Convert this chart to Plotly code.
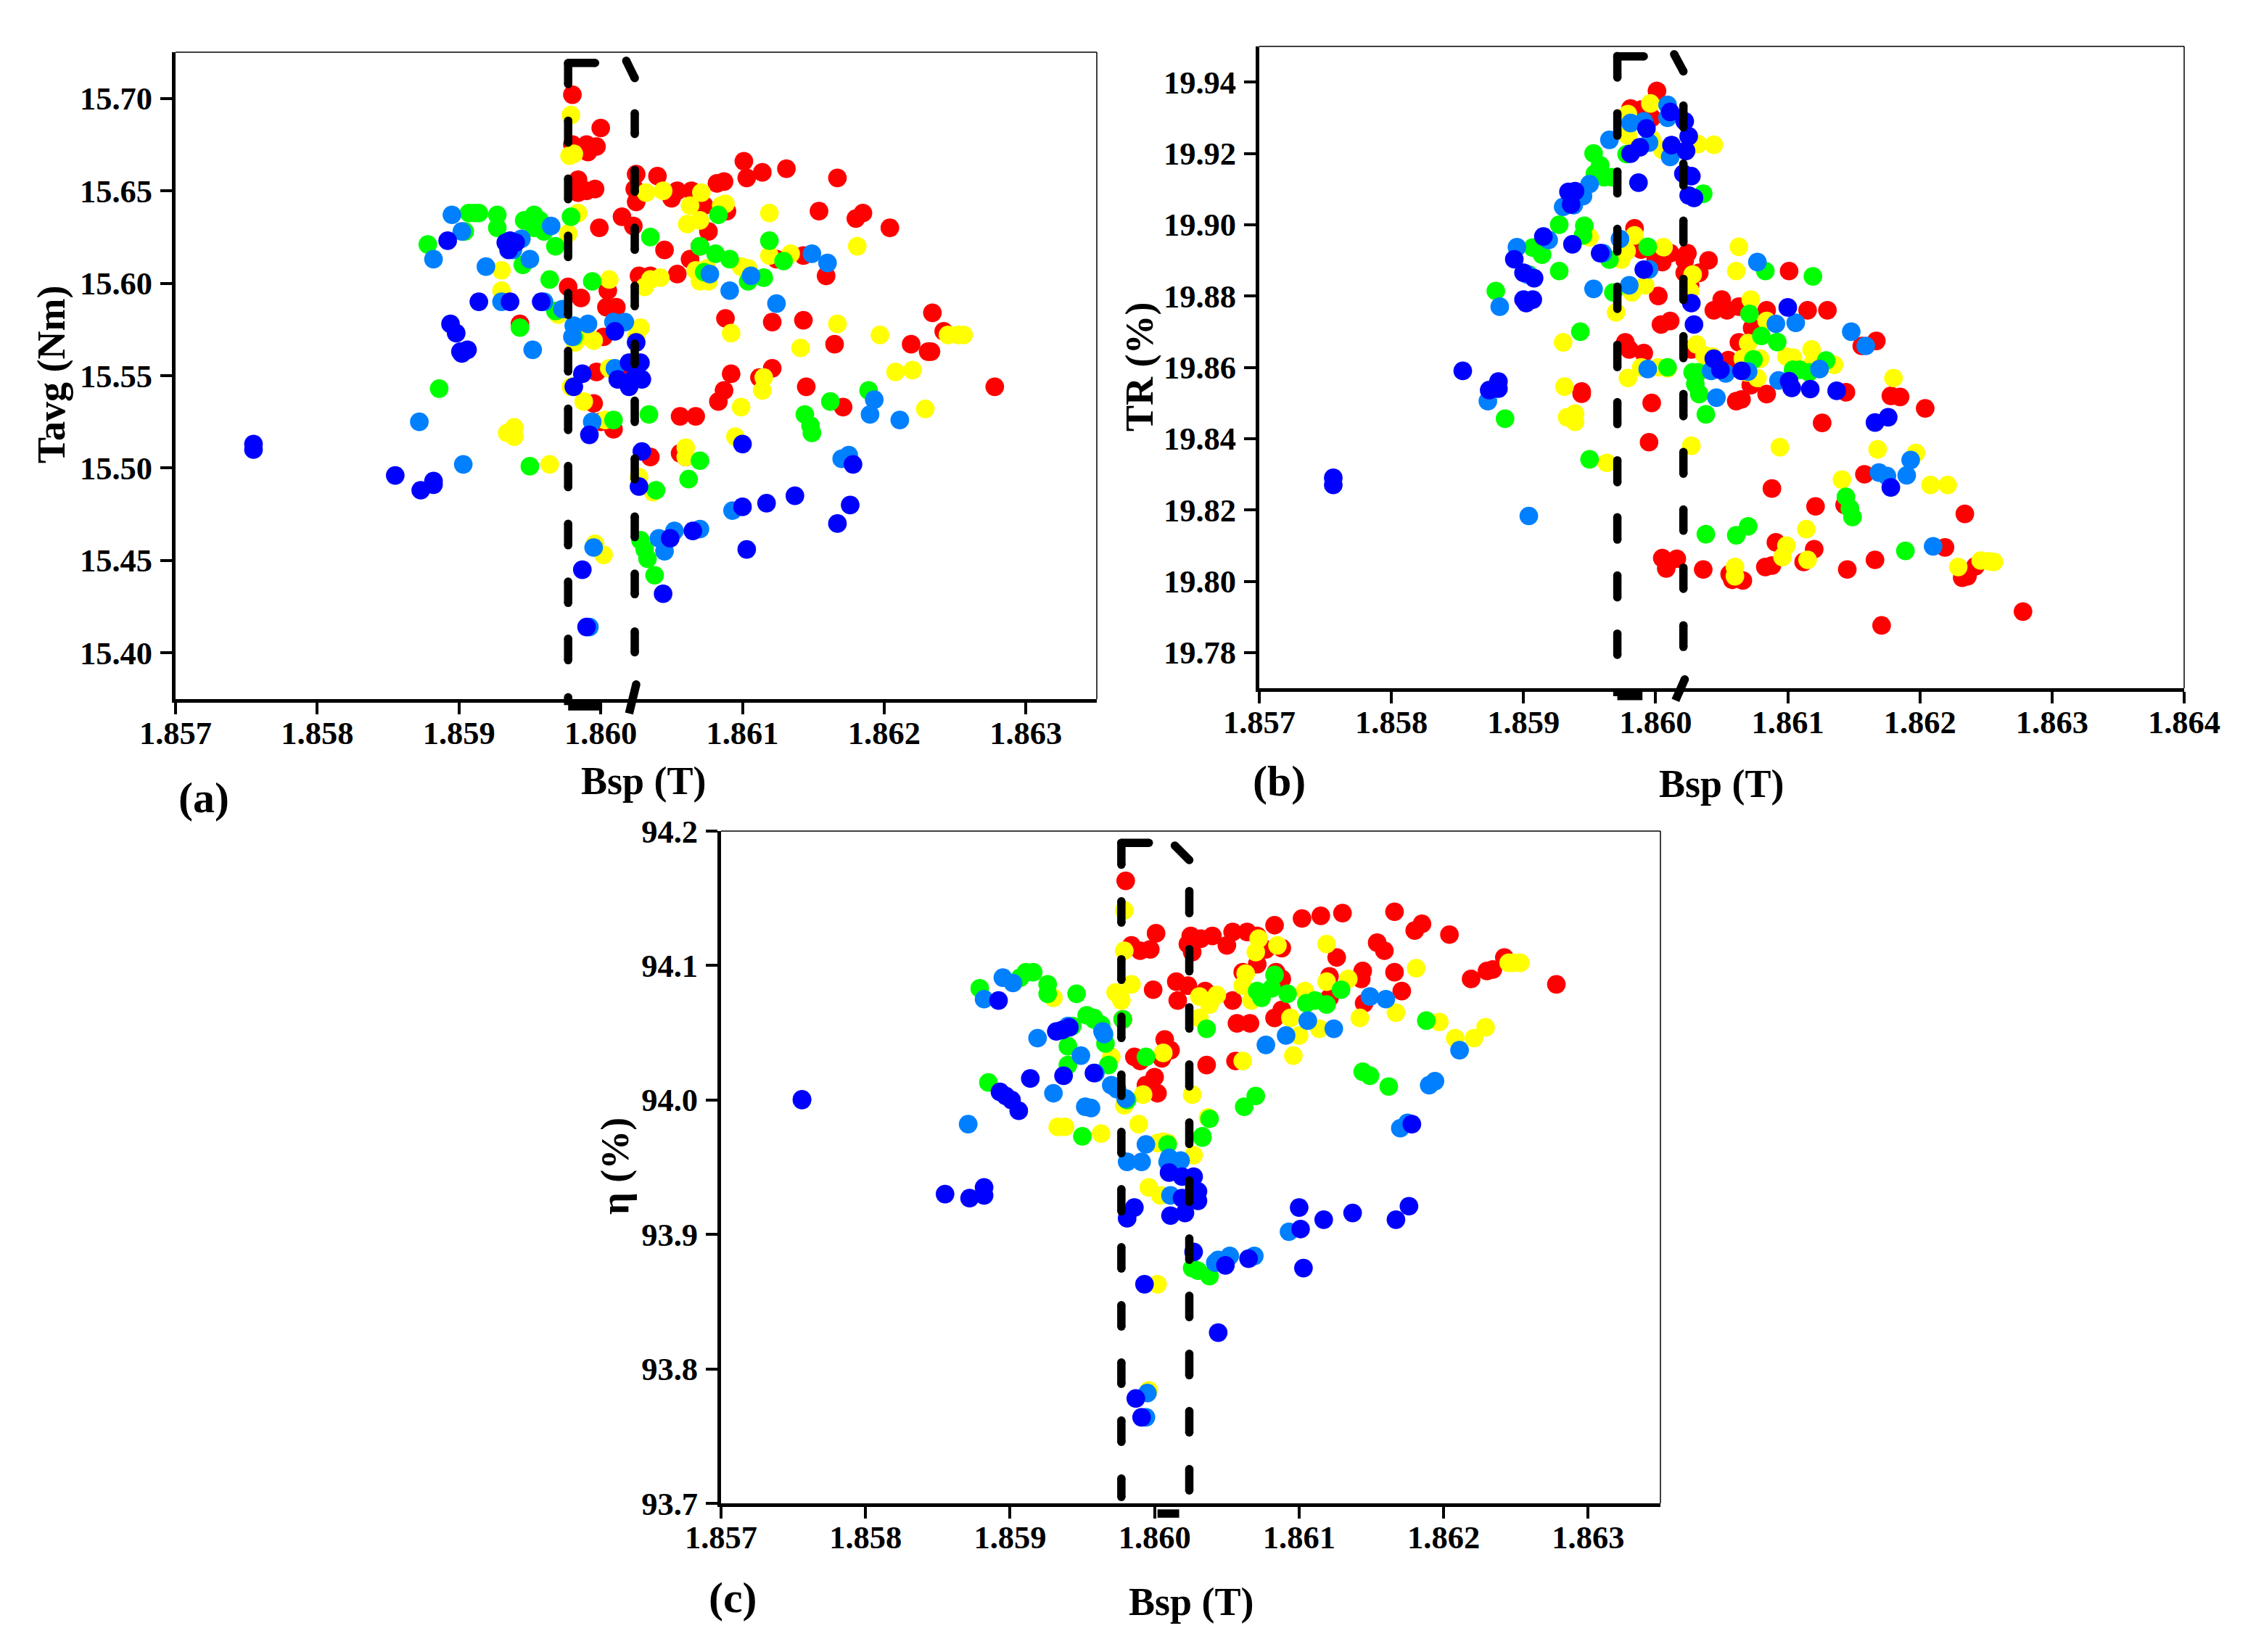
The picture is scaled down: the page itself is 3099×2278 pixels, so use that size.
import plotly.graph_objects as go

W, H = 3099, 2278
PAGE_INSET = 8  # the page body offsets the figure
RED, YELLOW, GREEN, SKY, BLUE = "#ff0000", "#ffff00", "#00ff00", "#0080ff", "#0000ff"
SERIES_COLORS = [RED, YELLOW, GREEN, SKY, BLUE]
X_TITLE = "Bsp (T)"
Y_TITLES = ["Tavg (Nm)", "TR (%)", "η (%)"]
PANEL_TAGS = ["(a)", "(b)", "(c)"]

a_red = [(1.85980,15.702),(1.86000,15.684),(1.85980,15.675),(1.85990,15.675),(1.85997,15.674),(1.85991,15.671),
(1.85984,15.656),(1.85984,15.649),(1.85990,15.650),(1.85996,15.651),(1.86025,15.659),(1.86040,15.658),(1.86024,15.651),
(1.86025,15.644),(1.86050,15.646),(1.86054,15.650),(1.86064,15.650),(1.86073,15.642),(1.86082,15.654),(1.86087,15.655),
(1.86015,15.636),(1.85999,15.630),(1.86023,15.631),(1.86045,15.618),(1.86076,15.628),(1.86070,15.620),(1.86063,15.613),
(1.86054,15.605),(1.86027,15.604),(1.86035,15.604),(1.85977,15.598),(1.85986,15.592),(1.86005,15.596),(1.86004,15.587),
(1.86011,15.587),(1.86088,15.581),(1.85943,15.578),(1.86002,15.571),(1.86101,15.666),(1.86103,15.657),(1.86114,15.660),
(1.86131,15.662),(1.86167,15.657),(1.86154,15.639),(1.86185,15.638),(1.86180,15.635),(1.86204,15.630),(1.86089,15.639),
(1.86143,15.615),(1.86124,15.613),(1.86159,15.604),(1.86121,15.579),(1.86143,15.580),(1.86234,15.584),(1.86242,15.574),
(1.86219,15.567),(1.86231,15.563),(1.86233,15.563),(1.86165,15.567),(1.85997,15.552),(1.86018,15.551),(1.86092,15.551),
(1.86112,15.549),(1.86121,15.554),(1.86087,15.542),(1.86083,15.536),(1.86145,15.544),(1.86171,15.533),(1.86278,15.544),
(1.85995,15.535),(1.86009,15.521),(1.86000,15.525),(1.86056,15.528),(1.86067,15.528),(1.86035,15.506),(1.86056,15.508),(1.86060,15.506)]
a_yellow = [(1.85979,15.691),(1.85978,15.669),(1.85981,15.670),(1.85984,15.638),(1.85977,15.627),(1.86032,15.649),(1.86044,15.650),
(1.86063,15.642),(1.86071,15.649),(1.86085,15.642),(1.86061,15.632),(1.86070,15.634),(1.85930,15.607),(1.85930,15.596),(1.86006,15.602),
(1.86042,15.603),(1.86035,15.602),(1.86031,15.598),(1.86067,15.607),(1.86070,15.601),(1.86076,15.601),(1.86075,15.608),(1.86092,15.573),
(1.86028,15.576),(1.86025,15.571),(1.85995,15.569),(1.85991,15.571),(1.85982,15.568),(1.85970,15.583),(1.86119,15.638),(1.86088,15.643),
(1.86134,15.616),(1.86119,15.615),(1.86099,15.609),(1.86104,15.608),(1.86181,15.620),(1.86167,15.578),(1.86197,15.572),(1.86141,15.565),
(1.86245,15.572),(1.86252,15.572),(1.86256,15.572),(1.86006,15.554),(1.86208,15.552),(1.86220,15.553),(1.86115,15.549),(1.86114,15.542),
(1.85988,15.536),(1.86099,15.533),(1.86229,15.532),(1.86003,15.526),(1.85934,15.519),(1.85939,15.522),(1.85939,15.517),(1.86095,15.517),
(1.86060,15.511),(1.86060,15.506),(1.85964,15.502),(1.86027,15.495),(1.86037,15.487),(1.85996,15.459),(1.86002,15.453),(1.85979,15.544)]
a_green = [(1.85878,15.621),(1.85907,15.638),(1.85914,15.638),(1.85911,15.638),(1.85927,15.637),(1.85927,15.630),(1.85904,15.628),
(1.85946,15.634),(1.85953,15.637),(1.85957,15.634),(1.85953,15.630),(1.85960,15.628),(1.85968,15.620),(1.85979,15.636),(1.86035,15.625),
(1.85945,15.610),(1.85964,15.602),(1.85994,15.601),(1.85943,15.576),(1.85968,15.585),(1.86070,15.620),(1.86083,15.637),(1.86081,15.616),
(1.86073,15.606),(1.85981,15.571),(1.86091,15.613),(1.86119,15.623),(1.86129,15.612),(1.86104,15.601),(1.86115,15.603),(1.85886,15.543),
(1.86189,15.542),(1.86162,15.536),(1.86009,15.526),(1.86034,15.529),(1.86144,15.529),(1.86148,15.523),(1.86149,15.519),(1.85950,15.501),
(1.86070,15.504),(1.86062,15.494),(1.86039,15.488),(1.86028,15.461),(1.86031,15.456),(1.86033,15.451),(1.86038,15.442)]
a_sky = [(1.85895,15.637),(1.85902,15.628),(1.85882,15.613),(1.85965,15.631),(1.85944,15.624),(1.85938,15.618),(1.85919,15.609),
(1.85950,15.613),(1.85930,15.590),(1.85960,15.590),(1.85973,15.586),(1.85952,15.564),(1.85981,15.577),(1.85991,15.578),(1.85980,15.571),
(1.86009,15.579),(1.86017,15.579),(1.86010,15.554),(1.86077,15.605),(1.86106,15.604),(1.86149,15.616),(1.86160,15.611),(1.86091,15.596),
(1.86124,15.589),(1.85872,15.525),(1.85994,15.525),(1.85903,15.502),(1.86190,15.529),(1.86193,15.537),(1.86211,15.526),(1.86170,15.505),
(1.86175,15.507),(1.86093,15.477),(1.85995,15.457),(1.85992,15.414),(1.86052,15.466),(1.86041,15.462),(1.86045,15.455),(1.86070,15.467)]
a_blue = [(1.85892,15.623),(1.85933,15.622),(1.85936,15.623),(1.85940,15.622),(1.85935,15.618),(1.85914,15.590),(1.85936,15.590),
(1.85958,15.590),(1.85894,15.578),(1.85898,15.573),(1.85906,15.564),(1.85901,15.563),(1.85902,15.562),(1.86010,15.574),(1.86025,15.568),
(1.85987,15.551),(1.85981,15.544),(1.86012,15.548),(1.86020,15.544),(1.86029,15.548),(1.86023,15.548),(1.85992,15.518),(1.86020,15.557),
(1.86028,15.557),(1.85855,15.496),(1.85873,15.488),(1.85882,15.493),(1.85882,15.491),(1.86029,15.509),(1.86100,15.513),(1.86178,15.502),
(1.86027,15.490),(1.86100,15.479),(1.86117,15.481),(1.86137,15.485),(1.86176,15.480),(1.86167,15.470),(1.86103,15.456),(1.86065,15.466),
(1.86049,15.462),(1.86044,15.432),(1.85987,15.445),(1.85990,15.414),(1.85755,15.513),(1.85755,15.510)]

b_red = [(1.86001,19.9375),(1.85981,19.9326),(1.85989,19.9323),(1.85997,19.930),(1.85984,19.899),(1.85989,19.893),(1.86000,19.8906),
(1.86005,19.8895),(1.86011,19.892),(1.86024,19.892),(1.86022,19.890),(1.86040,19.890),(1.86022,19.8865),(1.86033,19.8865),(1.86026,19.883),
(1.86002,19.880),(1.86004,19.872),(1.86011,19.873),(1.86050,19.879),(1.86044,19.876),(1.86054,19.876),(1.86063,19.877),(1.86084,19.876),
(1.86101,19.887),(1.86115,19.876),(1.86130,19.876),(1.85977,19.867),(1.85980,19.865),(1.85991,19.864),(1.86073,19.871),(1.86063,19.867),
(1.86055,19.862),(1.86072,19.855),(1.86084,19.8525),(1.86061,19.8505),(1.86065,19.851),(1.86027,19.865),(1.85944,19.8532),(1.85944,19.8526),
(1.85997,19.850),(1.85995,19.839),(1.86126,19.8444),(1.86088,19.826),(1.86121,19.821),(1.86144,19.853),(1.86167,19.8674),(1.86156,19.866),
(1.86178,19.852),(1.86185,19.8517),(1.86204,19.8485),(1.86158,19.830),(1.86143,19.8214),(1.86091,19.8109),(1.86120,19.809),(1.86005,19.8065),
(1.86016,19.8063),(1.86008,19.8036),(1.86036,19.8033),(1.86056,19.802),(1.86058,19.8004),(1.86066,19.8002),(1.86083,19.804),(1.86088,19.8044),
(1.86112,19.8054),(1.86145,19.8033),(1.86166,19.806),(1.86171,19.7876),(1.86219,19.8095),(1.86234,19.8189),(1.86242,19.8042),(1.86232,19.801),
(1.86236,19.8014),(1.86278,19.7915)]
b_yellow = [(1.85996,19.934),(1.85979,19.931),(1.85979,19.925),(1.85997,19.924),(1.86005,19.921),(1.86032,19.9226),(1.86044,19.9224),
(1.85984,19.897),(1.85950,19.8965),(1.86006,19.8937),(1.85978,19.8926),(1.86063,19.8938),(1.85974,19.8902),(1.86061,19.887),(1.86028,19.886),
(1.85992,19.883),(1.85982,19.881),(1.86026,19.8814),(1.85970,19.8754),(1.86072,19.879),(1.86084,19.873),(1.85930,19.867),(1.86031,19.8664),
(1.86037,19.8634),(1.86043,19.863),(1.86070,19.8668),(1.86066,19.8624),(1.86079,19.8624),(1.86077,19.857),(1.86069,19.8586),(1.86099,19.863),
(1.86118,19.865),(1.86104,19.8627),(1.86135,19.8607),(1.86118,19.8607),(1.85989,19.860),(1.85979,19.857),(1.86002,19.860),(1.86009,19.8597),
(1.85931,19.8546),(1.85933,19.846),(1.85939,19.847),(1.85939,19.8447),(1.85963,19.8332),(1.86027,19.838),(1.86094,19.8376),(1.86114,19.8146),
(1.86141,19.8285),(1.86180,19.857),(1.86197,19.836),(1.86168,19.837),(1.86099,19.810),(1.86096,19.8068),(1.86115,19.806),(1.86060,19.804),
(1.86060,19.8014),(1.86208,19.827),(1.86221,19.827),(1.86229,19.804),(1.86246,19.8058),(1.86252,19.8056),(1.86256,19.8054)]
b_green = [(1.85953,19.920),(1.85958,19.9167),(1.85954,19.9143),(1.85961,19.9133),(1.85967,19.9133),(1.85978,19.9198),(1.86036,19.9087),
(1.85927,19.900),(1.85946,19.8997),(1.85945,19.897),(1.85907,19.8936),(1.85914,19.8916),(1.85927,19.887),(1.85965,19.8902),(1.85994,19.8938),
(1.85879,19.8814),(1.85968,19.881),(1.86083,19.887),(1.86119,19.8855),(1.86071,19.875),(1.85904,19.886),(1.85943,19.870),(1.86080,19.8688),
(1.86092,19.8671),(1.86074,19.8622),(1.86028,19.8586),(1.86032,19.8586),(1.86030,19.8553),(1.86033,19.8525),(1.86038,19.8468),(1.86009,19.860),
(1.86104,19.8593),(1.86109,19.8593),(1.86116,19.8586),(1.86129,19.8619),(1.85886,19.8456),(1.85950,19.8342),(1.86144,19.8237),(1.86147,19.8204),
(1.86149,19.818),(1.86038,19.8132),(1.86061,19.8129),(1.86070,19.8154),(1.86189,19.8085)]
b_sky = [(1.86009,19.9336),(1.86009,19.930),(1.85981,19.9285),(1.85991,19.929),(1.85965,19.9238),(1.85995,19.923),(1.86011,19.919),
(1.85950,19.9114),(1.85945,19.908),(1.85930,19.905),(1.85938,19.9055),(1.85919,19.8957),(1.85895,19.8937),(1.85960,19.892),(1.85973,19.896),
(1.85995,19.8875),(1.86077,19.8895),(1.85953,19.882),(1.85980,19.883),(1.85903,19.886),(1.85882,19.877),(1.86091,19.8722),(1.86106,19.8725),
(1.85994,19.8595),(1.86042,19.859),(1.86053,19.8583),(1.86046,19.8515),(1.86070,19.8588),(1.86093,19.8563),(1.86124,19.8595),(1.85904,19.8183),
(1.86148,19.870),(1.86159,19.866),(1.86169,19.8305),(1.86175,19.8295),(1.86190,19.8297),(1.86193,19.834),(1.86210,19.8098),(1.85873,19.8505)]
b_blue = [(1.86011,19.9316),(1.86022,19.929),(1.85993,19.927),(1.86025,19.9248),(1.85988,19.9217),(1.85981,19.9199),(1.86012,19.9223),
(1.86023,19.9207),(1.85987,19.9118),(1.86021,19.9143),(1.86027,19.9136),(1.86025,19.9082),(1.86029,19.9075),(1.85934,19.9092),(1.85939,19.9094),
(1.85936,19.9057),(1.85915,19.8967),(1.85937,19.8945),(1.85958,19.892),(1.85893,19.8903),(1.85900,19.8865),(1.85908,19.885),(1.85900,19.879),
(1.85907,19.879),(1.85902,19.878),(1.85991,19.8874),(1.86027,19.878),(1.86029,19.872),(1.86044,19.8624),(1.86049,19.8593),(1.86065,19.8590),
(1.86100,19.8768),(1.86101,19.8561),(1.86103,19.8542),(1.86117,19.8539),(1.86137,19.8534),(1.85881,19.856),(1.85881,19.854),(1.85874,19.8536),
(1.86178,19.8263),(1.86166,19.8445),(1.86176,19.846),(1.85854,19.859),(1.85756,19.829),(1.85756,19.827)]

c_red = [(1.85980,94.163),(1.86001,94.124),(1.85984,94.115),(1.85990,94.111),(1.85997,94.112),(1.86025,94.122),(1.86023,94.116),
(1.86026,94.110),(1.86032,94.120),(1.86040,94.122),(1.86050,94.115),(1.86054,94.125),(1.86064,94.125),(1.86071,94.122),(1.86083,94.130),
(1.86102,94.135),(1.86115,94.137),(1.86130,94.139),(1.86166,94.140),(1.86185,94.131),(1.86180,94.126),(1.86204,94.123),(1.86126,94.106),
(1.86154,94.117),(1.86159,94.111),(1.86088,94.113),(1.86077,94.112),(1.86242,94.106),(1.86230,94.096),(1.86234,94.097),(1.86219,94.090),
(1.86278,94.086),(1.86071,94.101),(1.86061,94.095),(1.86084,94.095),(1.86088,94.090),(1.86144,94.096),(1.86143,94.090),(1.86166,94.095),
(1.86171,94.081),(1.86145,94.072),(1.86121,94.092),(1.86121,94.076),(1.86015,94.088),(1.86023,94.085),(1.85999,94.082),(1.86016,94.074),
(1.86035,94.081),(1.86054,94.074),(1.86057,94.057),(1.86066,94.057),(1.86083,94.061),(1.86088,94.067),(1.85978,94.060),(1.86007,94.045),
(1.86011,94.037),(1.85986,94.032),(1.85990,94.029),(1.86000,94.017),(1.85994,94.011),(1.86002,94.005),(1.86005,94.031),(1.86036,94.026),
(1.86056,94.029)]
c_yellow = [(1.85979,94.141),(1.85979,94.111),(1.85984,94.086),(1.85973,94.080),(1.85977,94.074),(1.86072,94.120),(1.86070,94.110),
(1.86085,94.115),(1.86119,94.116),(1.86063,94.094),(1.86061,94.085),(1.86031,94.077),(1.86043,94.078),(1.86038,94.071),(1.86031,94.061),
(1.86067,94.074),(1.86104,94.081),(1.86119,94.088),(1.86134,94.090),(1.86181,94.098),(1.86094,94.061),(1.86100,94.048),(1.86114,94.053),
(1.86142,94.061),(1.86167,94.065),(1.86197,94.058),(1.86208,94.046),(1.86221,94.046),(1.86229,94.054),(1.86096,94.033),(1.86006,94.035),
(1.86061,94.029),(1.85992,94.004),(1.86026,94.004),(1.85979,93.996),(1.85989,93.982),(1.85963,93.975),(1.85970,94.032),(1.86245,94.102),
(1.86253,94.102),(1.86248,94.102),(1.86037,93.987),(1.86009,93.968),(1.86002,93.968),(1.86027,93.959),(1.85933,93.980),(1.85938,93.980),
(1.85996,93.935),(1.86004,93.929),(1.86002,93.863),(1.85996,93.784),(1.86006,93.969),(1.85930,94.076),(1.85976,94.077)]
c_green = [(1.85978,94.060),(1.85958,94.061),(1.85963,94.056),(1.85966,94.042),(1.85968,94.026),(1.85994,94.032),(1.86083,94.093),
(1.86071,94.081),(1.86074,94.076),(1.86081,94.083),(1.86092,94.079),(1.86105,94.072),(1.86111,94.074),(1.86119,94.071),(1.86129,94.082),
(1.86036,94.053),(1.86188,94.059),(1.86144,94.021),(1.86149,94.018),(1.86162,94.010),(1.86070,94.003),(1.86062,93.995),(1.86038,93.986),
(1.86033,93.973),(1.86009,93.967),(1.85981,94.000),(1.85879,94.083),(1.85907,94.091),(1.85911,94.095),(1.85916,94.095),(1.85926,94.086),
(1.85926,94.079),(1.85946,94.079),(1.85953,94.063),(1.85958,94.060),(1.85943,94.055),(1.85940,94.026),(1.85885,94.013),(1.85940,94.040),
(1.85950,93.973),(1.86033,93.972),(1.86026,93.875),(1.86030,93.873),(1.86038,93.869)]
c_sky = [(1.85965,94.049),(1.85974,94.008),(1.85980,94.001),(1.85956,93.994),(1.86106,94.059),(1.86124,94.053),(1.86149,94.077),
(1.86160,94.075),(1.86091,94.048),(1.86077,94.041),(1.86211,94.037),(1.86190,94.011),(1.86194,94.014),(1.86170,93.979),(1.86175,93.983),
(1.85959,94.020),(1.86010,93.957),(1.85994,93.967),(1.85981,93.954),(1.85991,93.954),(1.86009,93.954),(1.86018,93.955),(1.86011,93.929),
(1.86093,93.902),(1.86052,93.884),(1.86042,93.879),(1.86044,93.881),(1.86069,93.884),(1.85995,93.782),(1.85994,93.764),(1.85882,94.075),
(1.85895,94.091),(1.85902,94.087),(1.85919,94.046),(1.85949,94.033),(1.85930,94.005),(1.85952,93.995),(1.85964,94.051),(1.85871,93.982),
(1.85970,94.011),(1.85940,94.055)]
c_blue = [(1.86010,93.946),(1.86019,93.943),(1.86027,93.943),(1.86030,93.932),(1.86030,93.925),(1.86019,93.927),(1.85986,93.920),
(1.85981,93.912),(1.86011,93.914),(1.86021,93.916),(1.86100,93.920),(1.86101,93.904),(1.86117,93.911),(1.86137,93.916),(1.86176,93.921),
(1.86167,93.911),(1.86103,93.875),(1.86065,93.882),(1.86049,93.877),(1.86027,93.887),(1.86044,93.827),(1.85993,93.863),(1.85987,93.778),
(1.85991,93.764),(1.86178,93.982),(1.85958,94.020),(1.85756,94.0005),(1.85756,94.000),(1.85855,93.930),(1.85872,93.927),(1.85882,93.935),
(1.85882,93.929),(1.85892,94.074),(1.85893,94.006),(1.85897,94.003),(1.85901,94.000),(1.85906,93.992),(1.85914,94.016),(1.85937,94.018),
(1.85932,94.051),(1.85936,94.052),(1.85941,94.054)]

# dashed outline: pieces (x0, y0, x1, y1) in data units
a_left = 1.85977
a_right = 1.86024
a_left_breaks = [15.7212,15.7055,15.6902,15.6738,15.6589,15.6432,15.6280,15.6119,15.5970,15.5806,15.5657,15.5500,15.5344,15.5183,
                 15.5034,15.4874,15.4721,15.4560,15.4408,15.4248,15.4099,15.3938,15.3782,15.3695]
a_right_breaks = [15.6942,15.6785,15.6636,15.6472,15.6323,15.6158,15.6009,15.5853,15.5696,15.5540,15.5387,15.5227,15.5074,15.4917,
                  15.4760,15.4604,15.4451,15.4295,15.4138,15.3981]
a_extra = [(1.85977,15.7192,1.85996,15.7192),(1.86018,15.7204,1.86024,15.7110),(1.86025,15.3829,1.86020,15.3672),(1.85977,15.3711,1.86001,15.3711)]

b_left = 1.85971
b_right = 1.86021
b_left_breaks = [19.9485,19.9401,19.9324,19.9238,19.9161,19.9076,19.9000,19.8913,19.8838,19.8752,19.8675,19.8589,19.8514,19.8429,
                 19.8351,19.8266,19.8191,19.8105,19.8028,19.7943,19.7865,19.7782,19.7705,19.7666]
b_right_breaks = [19.9346,19.9261,19.9183,19.9098,19.9023,19.8939,19.8860,19.8777,19.8699,19.8614,19.8537,19.8451,19.8374,19.8290,
                  19.8213,19.8130,19.8050,19.7967,19.7888,19.7804]
b_extra = [(1.85971,19.9472,1.85991,19.9472),(1.86014,19.9478,1.86021,19.9430),(1.86022,19.7725,1.86015,19.7666),(1.85971,19.7678,1.85990,19.7678)]

c_left = 1.85977
c_right = 1.86024
c_left_breaks = [94.1941,94.1719,94.1509,94.1288,94.1078,94.0862,94.0651,94.0430,94.0220,93.9999,93.9794,93.9573,93.9368,93.9141,
                 93.8936,93.8715,93.8505,93.8284,93.8079,93.7858,93.7647,93.7426,93.7216,93.7016]
c_right_breaks = [94.1585,94.1358,94.1153,94.0926,94.0721,94.0500,94.0295,94.0069,93.9864,93.9642,93.9432,93.9211,93.9001,93.8780,
                  93.8575,93.8354,93.8143,93.7922,93.7717,93.7496,93.7286,93.7065]
c_extra = [(1.85977,94.1913,1.85996,94.1913),(1.86014,94.1892,1.86024,94.1784),(1.86002,93.6924,1.86017,93.6924)]

panels = [
    dict(series=[a_red,a_yellow,a_green,a_sky,a_blue], left=a_left, right=a_right, lb=a_left_breaks, rb=a_right_breaks, extra=a_extra,
         box=(242,1512,72,964), xr=(1.857,1.8635), yr=(15.375,15.725), xt=[1.857,1.858,1.859,1.860,1.861,1.862,1.863],
         yt=[15.40,15.45,15.50,15.55,15.60,15.65,15.70], yf=".2f", tag=(281,1100), xtitle=(887,1077), ytitle=(71,516)),
    dict(series=[b_red,b_yellow,b_green,b_sky,b_blue], left=b_left, right=b_right, lb=b_left_breaks, rb=b_right_breaks, extra=b_extra,
         box=(1736,3011,64,949), xr=(1.857,1.864), yr=(19.77,19.95), xt=[1.857,1.858,1.859,1.860,1.861,1.862,1.863,1.864],
         yt=[19.78,19.80,19.82,19.84,19.86,19.88,19.90,19.92,19.94], yf=".2f", tag=(1763,1077), xtitle=(2373,1081), ytitle=(1571,506)),
    dict(series=[c_red,c_yellow,c_green,c_sky,c_blue], left=c_left, right=c_right, lb=c_left_breaks, rb=c_right_breaks, extra=c_extra,
         box=(994,2289,1146,2073), xr=(1.857,1.8635), yr=(93.7,94.2), xt=[1.857,1.858,1.859,1.860,1.861,1.862,1.863],
         yt=[93.7,93.8,93.9,94.0,94.1,94.2], yf=".1f", tag=(1010,2203), xtitle=(1642,2209), ytitle=(848,1608)),
]

fig = go.Figure()
layout = dict(width=W, height=H, autosize=False, margin=dict(l=0, r=0, t=0, b=0), plot_bgcolor="white", paper_bgcolor="white",
              showlegend=False, font=dict(family="Liberation Serif", color="black"))
shapes, annotations = [], []
tick_font = dict(family="Liberation Serif", size=44.5, color="black", weight="bold")
title_font = dict(family="Liberation Serif", size=54, color="black", weight="bold")
DASH_WIDTH = 11.5

def px_x(v):
    return (v - PAGE_INSET) / W

def px_y(v):
    return 1 - (v - PAGE_INSET) / H

for i, p in enumerate(panels):
    s = "" if i == 0 else str(i + 1)
    xa, ya = "x" + s, "y" + s
    for pts, col in zip(p["series"], SERIES_COLORS):
        fig.add_trace(go.Scatter(x=[q[0] for q in pts], y=[q[1] for q in pts], mode="markers", xaxis=xa, yaxis=ya,
                                 marker=dict(size=25.7, color=col, line=dict(width=0)), cliponaxis=False))
    l, r, t, b = p["box"]
    dom = (px_y(b), px_y(t))
    y0r, y1r = p["yr"]

    def y_to_paper(v):
        # paper reference keeps the pieces that hang below the axis from being clipped
        return dom[0] + (v - y0r) / (y1r - y0r) * (dom[1] - dom[0])

    cap = (y1r - y0r) / (b - t) * DASH_WIDTH / 2   # round-cap radius in data units
    pieces = []
    lb, rb = p["lb"], p["rb"]
    for k in range(0, len(lb) - 1, 2):
        pieces.append((p["left"], lb[k] - cap, p["left"], lb[k + 1] + cap))
    for k in range(0, len(rb) - 1, 2):
        pieces.append((p["right"], rb[k] - cap, p["right"], rb[k + 1] + cap))
    pieces += p["extra"]
    ends_x, ends_y = [], []
    for x0, y0, x1, y1 in pieces:
        shapes.append(dict(type="line", xref=xa, yref="paper", x0=x0, y0=y_to_paper(y0), x1=x1, y1=y_to_paper(y1), layer="above",
                           line=dict(color="black", width=DASH_WIDTH)))
        ends_x += [x0, x1]
        ends_y += [y0, y1]
    fig.add_trace(go.Scatter(x=ends_x, y=ends_y, mode="markers", xaxis=xa, yaxis=ya, cliponaxis=False,
                             marker=dict(size=DASH_WIDTH, color="black", line=dict(width=0))))
    layout["xaxis" + s] = dict(domain=[px_x(l), px_x(r)], range=list(p["xr"]), anchor=ya, tickmode="array", tickvals=p["xt"],
                               ticktext=[f"{v:.3f}" for v in p["xt"]], ticks="outside", ticklen=16, tickwidth=4, tickcolor="black",
                               showline=True, linewidth=5, linecolor="black", showgrid=False, zeroline=False, tickfont=tick_font,
                               ticklabelstandoff=-12, automargin=False)
    layout["yaxis" + s] = dict(domain=[dom[0], dom[1]], range=list(p["yr"]), anchor=xa, tickmode="array", tickvals=p["yt"],
                               ticktext=[format(v, p["yf"]) for v in p["yt"]], ticks="outside", ticklen=16, tickwidth=4, tickcolor="black",
                               showline=True, linewidth=5, linecolor="black", showgrid=False, zeroline=False, tickfont=tick_font,
                               ticklabelstandoff=2, automargin=False)
    dx, dy = xa + " domain", ya + " domain"
    shapes.append(dict(type="line", xref=dx, yref=dy, x0=0, x1=1, y0=1, y1=1, line=dict(color="black", width=1.5)))
    shapes.append(dict(type="line", xref=dx, yref=dy, x0=1, x1=1, y0=0, y1=1, line=dict(color="black", width=1.5)))
    annotations.append(dict(text=PANEL_TAGS[i], xref="paper", yref="paper", x=px_x(p["tag"][0]), y=px_y(p["tag"][1]),
                            showarrow=False, xanchor="center", yanchor="middle",
                            font=dict(family="Liberation Serif", size=60, color="black", weight="bold")))
    annotations.append(dict(text=X_TITLE, xref="paper", yref="paper", x=px_x(p["xtitle"][0]), y=px_y(p["xtitle"][1]),
                            showarrow=False, xanchor="center", yanchor="middle", font=title_font))
    annotations.append(dict(text=Y_TITLES[i], xref="paper", yref="paper", x=px_x(p["ytitle"][0]), y=px_y(p["ytitle"][1]),
                            showarrow=False, xanchor="center", yanchor="middle", textangle=-90, font=title_font))

layout["shapes"] = shapes
layout["annotations"] = annotations
fig.update_layout(**layout)
fig.write_html("out.html")
